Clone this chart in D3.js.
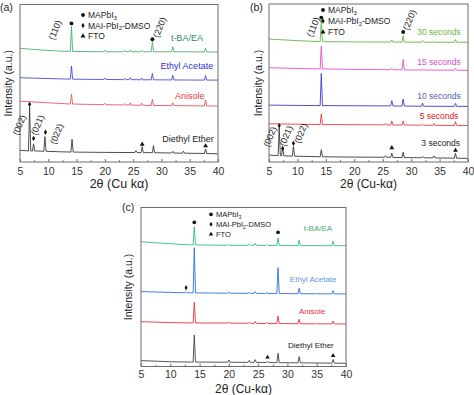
<!DOCTYPE html>
<html>
<head>
<meta charset="utf-8">
<title>XRD patterns</title>
<style>
body { margin: 0; background: #fff; font-family: "Liberation Sans", Arial, sans-serif; }
</style>
</head>
<body>
<svg id="fig" width="474" height="395"></svg>
<script src="https://cdn.jsdelivr.net/npm/d3@7"></script>
<script>
// shared 2θ axis
var xTicks = [5, 10, 15, 20, 25, 30, 35, 40];
var xMinor = [7.5, 12.5, 17.5, 22.5, 27.5, 32.5, 37.5];

// each entry: [2θ, peak top, baseline under the peak], intensity as % of plot height
// panel (a): antisolvent
var aTBA = [[5,72.2,72.2],[8,71.3,71.3],[12,70.4,70.4],[14.1,86,70.2],[20,71,70],[23.5,71,70],[24.5,71.2,70],[26.5,70.9,70],[28.4,76.4,70],[32,73.2,70],[37.8,72.2,69.9],[40,69.8,69.8]];
var aEA = [[5,53.5,53.5],[10,53,53],[14.1,61,52.6],[20,53.4,52.4],[23.5,53.2,52.3],[24.5,53.6,52.3],[26.5,53.3,52.2],[28.4,56.3,52.2],[32,55,52.1],[37.8,55,52],[40,52,52]];
var aAnisole = [[5,38.6,38.6],[8,38,38],[12,37.2,37.2],[14.1,43.2,36.8],[20,37.3,36.4],[23.5,37.1,36.2],[24.5,37.6,36.1],[26.5,37.4,36],[28.4,39.8,35.9],[32,37.6,35.8],[37.8,39.4,35.6],[40,35.5,35.5]];
var aEther = [[5,7.4,7.4],[6.2,7.1,7.1],[6.7,35,7],[7.4,11.5,7],[8.6,6.9,6.9],[9.4,16.1,6.8],[12,6.5,6.5],[14.2,14.4,6.3],[20,6.1,6.1],[25.5,7.2,6],[26.6,9.7,6],[28.6,10.4,5.9],[32,6.8,5.7],[33.9,6.9,5.6],[37.8,8.2,5.4],[40,5.2,5.2]];

// panel (b): dripping time
var bS30 = [[5,77.8,77.8],[10,76.8,76.8],[14.2,90,76.2],[20,76,76],[26.6,77.2,75.9],[28.6,80,75.9],[32,76.8,75.8],[34,76.2,75.8],[37.8,77.5,75.8],[40,75.8,75.8]];
var bS15 = [[5,59.7,59.7],[10,59.2,59.2],[14.2,73.3,58.9],[20,58.6,58.6],[26.6,59.3,58.4],[28.6,64.9,58.3],[32,58.8,58.2],[37.8,59.2,58.1],[40,58,58]];
var bS10 = [[5,36,36],[10,35.8,35.8],[14.2,56.1,35.7],[20,35.6,35.6],[26.6,38.8,35.5],[28.6,39.9,35.4],[32,37.3,35.3],[37.8,37.1,35.2],[40,35.2,35.2]];
var bS5 = [[5,24.2,24.2],[10,23.9,23.9],[14.2,30.4,23.7],[20,23.6,23.6],[25.5,24.5,23.5],[26.6,26,23.4],[28.6,26,23.4],[32,23.9,23.3],[34,24.3,23.2],[37.8,25.6,23.1],[40,23.1,23.1]];
var bS3 = [[5,4.4,4.4],[6.2,4.1,4.1],[6.8,21.8,4],[7.4,9.3,3.9],[8.6,3.8,3.8],[9.3,9.8,3.7],[12,3.5,3.5],[14.2,7.8,3.3],[20,3.1,3.1],[25.5,4,3],[26.6,5.6,2.9],[28.6,6.2,2.8],[32,3.6,2.7],[34,3.9,2.6],[37.8,5.6,2.4],[40,2.3,2.3]];

// panel (c): antisolvent, second set
var cTBA = [[5,78.5,78.5],[9,77.4,77.4],[12.5,76.7,76.7],[14.1,87.9,76.5],[20,76.8,76.2],[23.5,77,76.2],[24.5,77.5,76.2],[26.5,76.9,76.1],[28.4,81,76.1],[32,79.5,76],[37.8,78.9,76],[40,76,76]];
var cEA = [[5,47.1,47.1],[10,46.6,46.6],[12.7,47,46.4],[14.1,74.7,46.3],[20,46.8,46.1],[23.5,46.6,46],[24.5,47.1,46],[26.5,46.5,45.9],[28.4,62.2,45.9],[32,49.2,45.8],[35,46,45.7],[37.8,47.7,45.7],[40,45.6,45.6]];
var cAnisole = [[5,28.2,28.2],[10,27.6,27.6],[14.1,40.4,27.4],[20,27.9,27.3],[23.5,27.7,27.2],[24.5,28.3,27.1],[26.5,27.8,27],[28.4,31.8,27],[32,29.7,26.9],[35,27.1,26.8],[37.8,28.6,26.8],[40,26.7,26.7]];
var cEther = [[5,3.7,3.7],[10,3,3],[13.5,2.8,2.8],[14.1,19.8,2.8],[20,4.1,2.7],[23.5,3.9,2.6],[24.5,4.3,2.6],[26.6,3.3,2.5],[28.4,8.3,2.4],[32,6.2,2.3],[37.8,4.4,2.1],[40,2,2]];

// phase markers: [2θ, height %]
var aMAPbI3 = [[14.1,88],[28.4,77.9]];
var aIntermediate = [[6.7,36.6],[7.4,15],[9.5,18.9]];
var aFTO = [[26.6,11.2],[37.8,10.2]];
var bMAPbI3 = [[14.2,91.4],[28.6,82.3]];
var bIntermediate = [[6.8,23],[7.4,8.6],[9.3,11.8]];
var bFTO = [[26.6,9],[37.8,7.3]];
var cMAPbI3 = [[14.1,90.7],[28.4,84.4]];
var cIntermediate = [[12.7,49.6]];
var cFTO = [[26.6,5.8],[37.8,6.8]];

var svg = d3.select("#fig");
var halfWidth = 0.2;

function expand(pts) {
  var out = [];
  pts.forEach(function(p) {
    if (p[1] === p[2]) out.push([p[0], p[2]]);
    else {
      out.push([p[0] - halfWidth, p[2]]);
      out.push([p[0], p[1]]);
      out.push([p[0] + halfWidth, p[2]]);
    }
  });
  return out;
}

function drawPanel(p) {
  var g = svg.append("g");
  var x = d3.scaleLinear().domain([5, 40]).range([p.left, p.right]);
  var y = d3.scaleLinear().domain([0, 100]).range([p.bottom, p.top]);

  var line = d3.line().x(function(d) { return x(d[0]); }).y(function(d) { return y(d[1]); });
  p.series.forEach(function(s) {
    g.append("path")
      .datum(expand(s.data))
      .attr("d", line)
      .attr("fill", "none")
      .attr("stroke", s.color)
      .attr("stroke-width", 0.9)
      .attr("stroke-linejoin", "round");
    g.append("text")
      .attr("x", x(s.lx)).attr("y", y(s.ly))
      .attr("text-anchor", "middle")
      .attr("dominant-baseline", "central")
      .attr("font-size", p.labelSize)
      .attr("fill", s.labelColor)
      .text(s.name);
  });

  // frame
  g.append("rect")
    .attr("x", p.left).attr("y", p.top)
    .attr("width", p.right - p.left).attr("height", p.bottom - p.top)
    .attr("fill", "none").attr("stroke", "#6e6e6e").attr("stroke-width", 1);

  var ax = g.append("g").attr("transform", "translate(0," + p.bottom + ")")
    .call(d3.axisBottom(x).tickValues(xTicks).tickSize(-3).tickPadding(p.tickPad).tickFormat(d3.format("d")));
  ax.select(".domain").remove();
  ax.selectAll("line").attr("stroke", "#6e6e6e");
  ax.selectAll("text").attr("font-size", 10.5).attr("fill", "#333")
    .attr("font-family", "Liberation Sans, Arial, sans-serif");
  var mn = g.append("g").attr("transform", "translate(0," + p.bottom + ")")
    .call(d3.axisBottom(x).tickValues(xMinor).tickSize(-1.8).tickFormat(""));
  mn.select(".domain").remove();
  mn.selectAll("line").attr("stroke", "#6e6e6e");

  // titles
  g.append("text")
    .attr("x", (p.left + p.right) / 2).attr("y", p.bottom + p.titleGap)
    .attr("text-anchor", "middle").attr("font-size", p.titleSize).attr("fill", "#222")
    .text(p.xTitle);
  g.append("text")
    .attr("transform", "translate(" + p.yTitleX + "," + (p.top + p.bottom) / 2 + ") rotate(-90)")
    .attr("text-anchor", "middle").attr("dominant-baseline", "central")
    .attr("font-size", 10.5).attr("fill", "#222")
    .text("Intensity (a.u.)");
  g.append("text")
    .attr("x", p.tag[0]).attr("y", p.tag[1])
    .attr("dominant-baseline", "central")
    .attr("font-size", 10.5).attr("fill", "#222")
    .text(p.tag[2]);

  // phase markers
  var circ = d3.symbol().type(d3.symbolCircle).size(p.mark * 1.2);
  var dia = d3.symbol().type(d3.symbolDiamond).size(p.mark * 0.85);
  var tri = d3.symbol().type(d3.symbolTriangle).size(p.mark);
  function marks(arr, sym) {
    g.selectAll(null).data(arr).enter().append("path")
      .attr("d", sym)
      .attr("transform", function(d) { return "translate(" + x(d[0]) + "," + y(d[1]) + ")"; })
      .attr("fill", "#111");
  }
  marks(p.mapbi3, circ);
  marks(p.inter, dia);
  marks(p.fto, tri);

  // legend
  var lg = g.append("g").attr("font-size", p.legendSize).attr("fill", "#222");
  var rows = [circ, dia, tri];
  rows.forEach(function(sym, i) {
    var ly = p.legend[1] + i * p.legend[2];
    lg.append("path").attr("d", sym).attr("transform", "translate(" + p.legend[0] + "," + ly + ")").attr("fill", "#111");
  });
  var tx = p.legend[0] + 5;
  var t1 = lg.append("text").attr("x", tx).attr("y", p.legend[1]).attr("dominant-baseline", "central");
  t1.append("tspan").text("MAPbI");
  t1.append("tspan").attr("font-size", p.legendSize * 0.7).attr("dy", 2.5).text("3");
  var t2 = lg.append("text").attr("x", tx).attr("y", p.legend[1] + p.legend[2]).attr("dominant-baseline", "central");
  t2.append("tspan").text("MAI-PbI");
  t2.append("tspan").attr("font-size", p.legendSize * 0.7).attr("dy", 2.5).text("2");
  t2.append("tspan").attr("dy", -2.5).text("-DMSO");
  lg.append("text").attr("x", tx).attr("y", p.legend[1] + 2 * p.legend[2]).attr("dominant-baseline", "central").text("FTO");

  // Miller indices
  (p.hkl || []).forEach(function(h) {
    g.append("text")
      .attr("transform", "translate(" + x(h[1]) + "," + y(h[2]) + ") rotate(-68)")
      .attr("text-anchor", "middle").attr("dominant-baseline", "central")
      .attr("font-size", 9).attr("fill", "#222")
      .text(h[0]);
  });
}

drawPanel({
  left: 20, right: 218, top: 4.5, bottom: 162,
  xTitle: "2\u03b8 (Cu k\u03b1)", titleSize: 12.5, titleGap: 26, tickPad: 6, yTitleX: 8, tag: [0, 7, "(a)"],
  labelSize: 9, legendSize: 8.5, legend: [83, 15, 10.5], mark: 10,
  mapbi3: aMAPbI3, inter: aIntermediate, fto: aFTO,
  hkl: [["(110)", 11.2, 83.8], ["(220)", 29.7, 85.5], ["(002)", 4.9, 23.5], ["(021)", 8.1, 23.5], ["(022)", 11.5, 17.8]],
  series: [
    { name: "t-BA/EA", data: aTBA, color: "#4fae70", labelColor: "#2b8a68", lx: 34.5, ly: 78.7 },
    { name: "Ethyl Acetate", data: aEA, color: "#4848e0", labelColor: "#2f2fd6", lx: 34.5, ly: 61 },
    { name: "Anisole", data: aAnisole, color: "#ea5666", labelColor: "#e23444", lx: 35, ly: 41.9 },
    { name: "Diethyl Ether", data: aEther, color: "#3a3a3a", labelColor: "#222", lx: 34.7, ly: 14.6 }
  ]
});

drawPanel({
  left: 269, right: 468, top: 4, bottom: 162,
  xTitle: "2\u03b8 (Cu-k\u03b1)", titleSize: 12, titleGap: 26, tickPad: 6, yTitleX: 258, tag: [250, 7, "(b)"],
  labelSize: 8.5, legendSize: 8.5, legend: [323, 10, 11], mark: 10,
  mapbi3: bMAPbI3, inter: bIntermediate, fto: bFTO,
  hkl: [["(110)", 12.8, 85.5], ["(220)", 29.7, 89.9], ["(002)", 5.2, 16], ["(021)", 8, 16.5], ["(022)", 10.6, 18.2]],
  series: [
    { name: "30 seconds", data: bS30, color: "#62b84a", labelColor: "#6cb33f", lx: 34.9, ly: 82 },
    { name: "15 seconds", data: bS15, color: "#e050d0", labelColor: "#d94ac8", lx: 34.9, ly: 63.3 },
    { name: "10 seconds", data: bS10, color: "#3c3cd0", labelColor: "#5a5ab8", lx: 34.9, ly: 42 },
    { name: "5 seconds", data: bS5, color: "#e83c3c", labelColor: "#e02020", lx: 34.9, ly: 29.4 },
    { name: "3 seconds", data: bS3, color: "#3a3a3a", labelColor: "#222", lx: 35.2, ly: 12.2 }
  ]
});

drawPanel({
  left: 141, right: 346, top: 207.5, bottom: 366.5,
  xTitle: "2\u03b8 (Cu-k\u03b1)", titleSize: 12, titleGap: 26.5, tickPad: 4.5, yTitleX: 128, tag: [122, 207, "(c)"],
  labelSize: 8, legendSize: 7.5, legend: [211, 214.3, 10], mark: 9,
  mapbi3: cMAPbI3, inter: cIntermediate, fto: cFTO,
  series: [
    { name: "t-BA/EA", data: cTBA, color: "#3dba7c", labelColor: "#45b068", lx: 35.2, ly: 86.9 },
    { name: "Ethyl Acetate", data: cEA, color: "#2d6fdc", labelColor: "#5b9be0", lx: 34.4, ly: 54.8 },
    { name: "Anisole", data: cAnisole, color: "#e8323e", labelColor: "#e23040", lx: 34.2, ly: 34.9 },
    { name: "Diethyl Ether", data: cEther, color: "#444", labelColor: "#222", lx: 34, ly: 13.5 }
  ]
});
</script>
</body>
</html>
